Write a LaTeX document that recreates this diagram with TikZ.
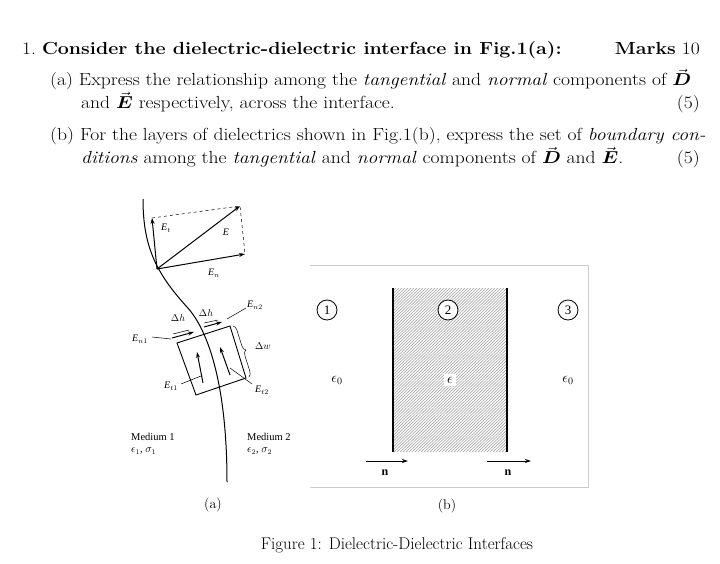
\documentclass[tikz,border=0pt]{standalone}
\usepackage{amsmath}
\usepackage{graphicx}
\usepackage{fontspec}
\newfontfamily\tms{Liberation Serif}
\usetikzlibrary{arrows.meta,decorations.pathreplacing}
\newcommand{\wx}[1]{\scalebox{1.12}[1]{#1}}
\begin{document}
\begin{tikzpicture}[x=1pt,y=-1pt,
  txt/.style={font=\fontsize{17.5}{20}\selectfont,inner sep=0pt},
  lab/.style={font=\tms\fontsize{10}{12}\selectfont\itshape,inner sep=1pt},
  lab2/.style={font=\tms\fontsize{10.5}{12}\selectfont,inner sep=0pt,align=left,anchor=west},
  vec/.style={line width=1pt,-{Stealth[length=6pt,width=4pt]}},
  thin/.style={line width=0.5pt}]
\useasboundingbox (0,0) rectangle (720,564);
\fill[white] (0,0) rectangle (720,564);
% text
\node[txt,anchor=base west] (q1) at (22,55) {\wx{1.\ \textbf{Consider the dielectric-dielectric interface in Fig.1(a):}}};
\node[txt,anchor=base east] (mk) at (700,55) {\wx{\textbf{Marks} 10}};
\node[txt,anchor=base west] (qa) at (50,86) {\wx{(a) Express the relationship among the \textit{tangential} and \textit{normal} components of $\vec{\boldsymbol{D}}$}};
\node[txt,anchor=base west] (qa2) at (81,109) {\wx{and $\vec{\boldsymbol{E}}$ respectively, across the interface.}};
\node[txt,anchor=base east] (pa) at (700,109) {\wx{(5)}};
\node[txt,anchor=base west] (qb) at (50,141) {\wx{(b) For the layers of dielectrics shown in Fig.1(b), express the set of \textit{boundary con-}}};
\node[txt,anchor=base west] (qb2) at (81,164) {\wx{\textit{ditions} among the \textit{tangential} and \textit{normal} components of $\vec{\boldsymbol{D}}$ and $\vec{\boldsymbol{E}}$.}};
\node[txt,anchor=base east] (pb) at (700,164) {\wx{(5)}};
% fig a
\draw[line width=1pt] (143,199) .. controls (143,245) and (155,272) .. (187,307) .. controls (210,332) and (227,390) .. (227,482);
\coordinate (o) at (157,269);
\coordinate (t) at (152,218);
\coordinate (e) at (240,206);
\coordinate (n) at (245,254);
\draw[thin,dashed] (t) -- (e) -- (n);
\draw[vec] (o) -- (t);
\draw[vec] (o) -- (e);
\draw[vec] (o) -- (n);
\node[lab] (let) at (166,228) {E$_t$};
\node[lab] (le) at (226,232) {E};
\node[lab] (len) at (214,273) {E$_n$};
\draw[line width=0.9pt] (177,343) -- (230,326) -- (246,378) -- (196,395) -- cycle;
\draw[vec] (203,383) -- (197,352);
\draw[vec] (230,375) -- (220,347);
\draw[vec] (172,338) -- (194,332);
\draw[thin] (173,334) -- (189,330);
\draw[vec] (204,327) -- (222,322);
\draw[thin] (204,323) -- (218,320);
\node[lab] (dh1) at (178,318) {$\Delta h$};
\node[lab] (dh2) at (206,313) {$\Delta h$};
\node[lab] (en2) at (255,305) {E$_{n2}$};
\draw[thin] (227,319) -- (246,308);
\node[lab] (en1) at (140,339) {E$_{n1}$};
\draw[thin] (152,337) -- (171,339);
\draw[thin,decorate,decoration={brace,amplitude=5pt}] (233,326) -- (249,377);
\node[lab] (dw) at (263,346) {$\Delta w$};
\node[lab] (et1) at (171,386) {E$_{t1}$};
\draw[thin] (181,384) -- (201,376);
\node[lab] (et2) at (262,390) {E$_{t2}$};
\draw[thin] (230,368) -- (252,384);
\node[lab2] (m1) at (131,444) {Medium 1\\$\epsilon_1$, $\sigma_1$};
\node[lab2] (m2) at (247,444) {Medium 2\\$\epsilon_2$, $\sigma_2$};
\node[txt,font=\fontsize{14}{15}\selectfont] (ca) at (213,505) {(a)};
% fig b
\draw[gray!40,line width=0.8pt] (310,265) -- (588,265) -- (588,487) -- (310,487);
\begin{scope}
\clip (393,288) rectangle (507,452);
\foreach \i in {0,3,...,300} \draw[gray!80,line width=0.5pt] (393+\i-170,452) -- (393+\i,288);
\end{scope}
\draw[line width=1.2pt] (393,288) -- (393,452);
\draw[line width=1.2pt] (507,288) -- (507,452);
\foreach \nm/\x/\t in {c1/327/1,c2/448/2,c3/568/3}
  \node[circle,draw,fill=white,line width=0.8pt,minimum size=20pt,inner sep=0pt,font=\tms\fontsize{13}{14}\selectfont] (\nm) at (\x,310) {\t};
\node[font=\fontsize{14}{14}\selectfont] (eps1) at (337,380) {$\epsilon_0$};
\node[fill=white,inner sep=3pt,font=\fontsize{14}{14}\selectfont] (eps2) at (450,380) {$\epsilon$};
\node[font=\fontsize{14}{14}\selectfont] (eps3) at (568,380) {$\epsilon_0$};
\coordinate (n1a) at (366,461); \coordinate (n1b) at (408,461);
\coordinate (n2a) at (487,461); \coordinate (n2b) at (531,461);
\draw[vec] (n1a) -- (n1b);
\draw[vec] (n2a) -- (n2b);
\node[font=\tms\bfseries\fontsize{12}{12}\selectfont] (nl1) at (385,473) {n};
\node[font=\tms\bfseries\fontsize{12}{12}\selectfont] (nl2) at (508,473) {n};
\node[txt,font=\fontsize{14}{15}\selectfont] (cb) at (447,506) {(b)};
\node[font=\fontsize{17}{18}\selectfont] (cap) at (397,545) {Figure 1: Dielectric-Dielectric Interfaces};
\end{tikzpicture}
\end{document}
